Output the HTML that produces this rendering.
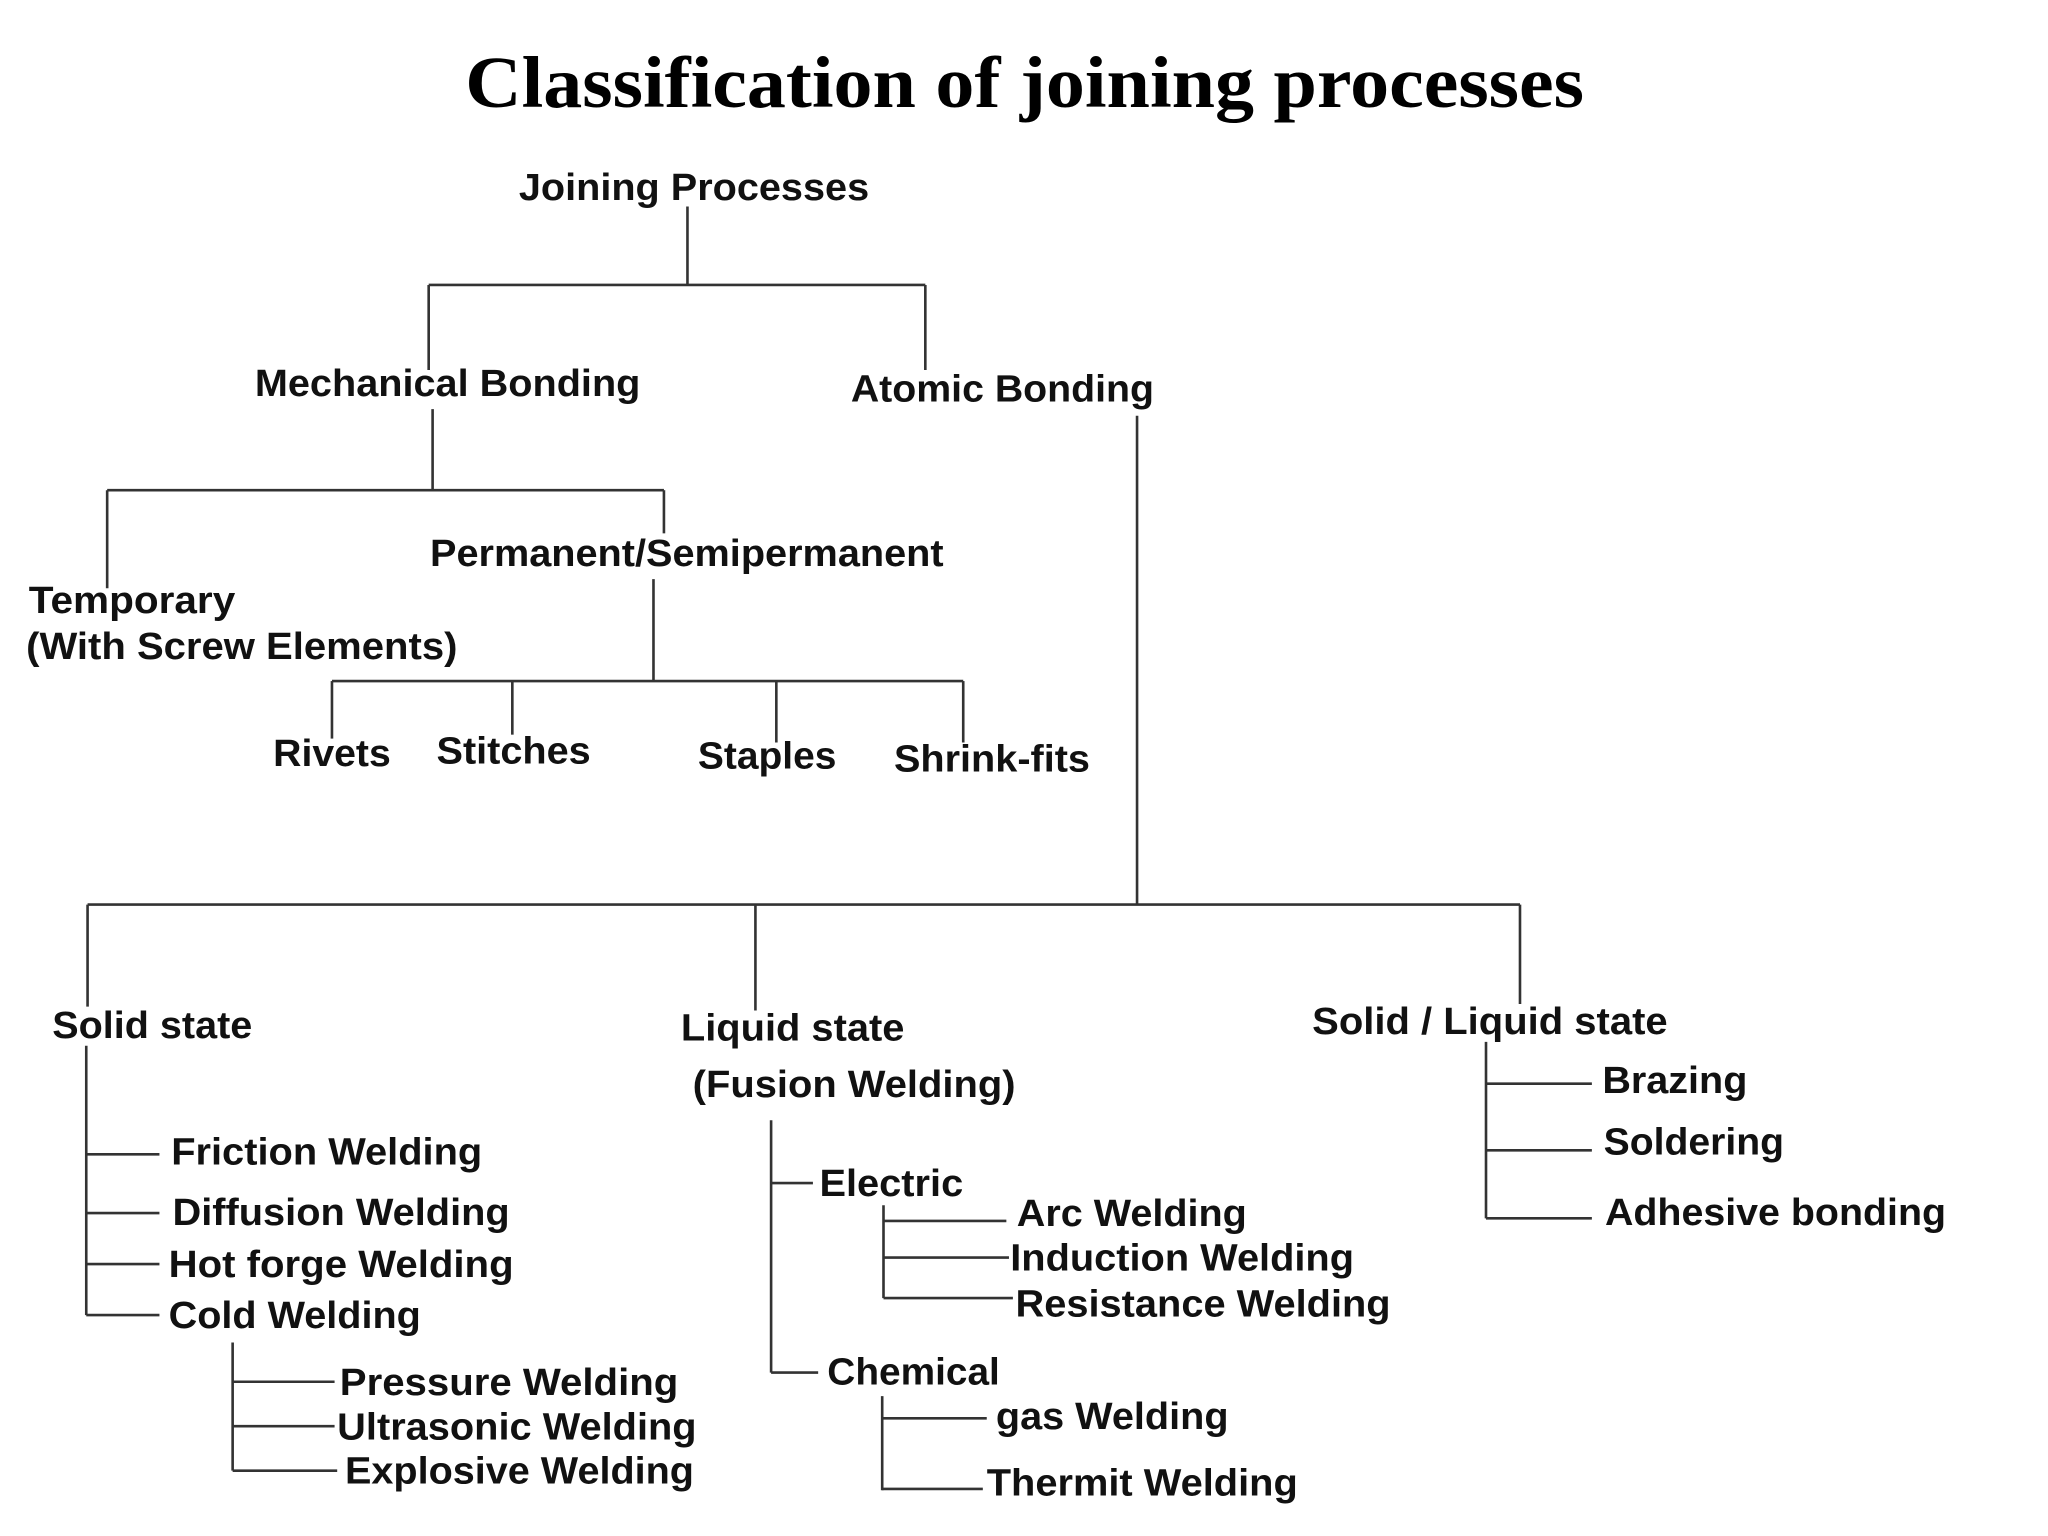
<!DOCTYPE html>
<html><head><meta charset="utf-8"><style>
html,body{margin:0;padding:0;background:#fff;}
svg{display:block;}
text{font-family:"Liberation Sans",Arial,sans-serif;font-weight:bold;font-size:29px;fill:#111;}
.t{font-family:"Liberation Serif",serif;font-size:56px;fill:#000;}
line{stroke:#333;stroke-width:2;}
</style></head><body>
<svg width="2048" height="1536" viewBox="0 0 1567 1175" preserveAspectRatio="none" xmlns="http://www.w3.org/2000/svg">
<text class="t" x="356" y="82" textLength="856" lengthAdjust="spacingAndGlyphs">Classification of joining processes</text>
<g>
<line x1="526" y1="158" x2="526" y2="218"/><line x1="328" y1="218" x2="708" y2="218"/>
<line x1="328" y1="218" x2="328" y2="283"/><line x1="708" y1="218" x2="708" y2="283"/>
<line x1="331" y1="313" x2="331" y2="375"/><line x1="82" y1="375" x2="508" y2="375"/>
<line x1="82" y1="375" x2="82" y2="450"/><line x1="508" y1="375" x2="508" y2="408"/>
<line x1="500" y1="443" x2="500" y2="521"/><line x1="254" y1="521" x2="737" y2="521"/>
<line x1="254" y1="521" x2="254" y2="565"/><line x1="392" y1="521" x2="392" y2="562"/>
<line x1="594" y1="521" x2="594" y2="568"/><line x1="737" y1="521" x2="737" y2="568"/>
<line x1="870" y1="318" x2="870" y2="692"/><line x1="67" y1="692" x2="1163" y2="692"/>
<line x1="67" y1="692" x2="67" y2="770"/><line x1="578" y1="692" x2="578" y2="773"/>
<line x1="1163" y1="692" x2="1163" y2="768"/>
<line x1="66" y1="800" x2="66" y2="1006"/>
<line x1="66" y1="883" x2="122" y2="883"/><line x1="66" y1="928" x2="122" y2="928"/>
<line x1="66" y1="967" x2="122" y2="967"/><line x1="66" y1="1006" x2="122" y2="1006"/>
<line x1="178" y1="1027" x2="178" y2="1125"/>
<line x1="178" y1="1057" x2="256" y2="1057"/><line x1="178" y1="1091" x2="256" y2="1091"/><line x1="178" y1="1125" x2="258" y2="1125"/>
<line x1="590" y1="857" x2="590" y2="1050"/>
<line x1="590" y1="905" x2="622" y2="905"/><line x1="590" y1="1050" x2="626" y2="1050"/>
<line x1="676" y1="922" x2="676" y2="993"/>
<line x1="676" y1="934" x2="770" y2="934"/><line x1="676" y1="962" x2="772" y2="962"/><line x1="676" y1="993" x2="775" y2="993"/>
<line x1="675" y1="1068" x2="675" y2="1140"/>
<line x1="675" y1="1085" x2="755" y2="1085"/><line x1="675" y1="1139" x2="752" y2="1139"/>
<line x1="1137" y1="797" x2="1137" y2="932"/>
<line x1="1137" y1="829" x2="1218" y2="829"/><line x1="1137" y1="880" x2="1218" y2="880"/><line x1="1137" y1="932" x2="1218" y2="932"/>
</g>
<text x="397" y="153" textLength="268" lengthAdjust="spacingAndGlyphs">Joining Processes</text>
<text x="195" y="303" textLength="295" lengthAdjust="spacingAndGlyphs">Mechanical Bonding</text>
<text x="651" y="307" textLength="232" lengthAdjust="spacingAndGlyphs">Atomic Bonding</text>
<text x="329" y="433" textLength="393" lengthAdjust="spacingAndGlyphs">Permanent/Semipermanent</text>
<text x="22" y="469" textLength="158" lengthAdjust="spacingAndGlyphs">Temporary</text>
<text x="20" y="504" textLength="330" lengthAdjust="spacingAndGlyphs">(With Screw Elements)</text>
<text x="209" y="586" textLength="90" lengthAdjust="spacingAndGlyphs">Rivets</text>
<text x="334" y="584" textLength="118" lengthAdjust="spacingAndGlyphs">Stitches</text>
<text x="534" y="588" textLength="106" lengthAdjust="spacingAndGlyphs">Staples</text>
<text x="684" y="590" textLength="150" lengthAdjust="spacingAndGlyphs">Shrink-fits</text>
<text x="40" y="794" textLength="153" lengthAdjust="spacingAndGlyphs">Solid state</text>
<text x="521" y="796" textLength="171" lengthAdjust="spacingAndGlyphs">Liquid state</text>
<text x="530" y="839" textLength="247" lengthAdjust="spacingAndGlyphs">(Fusion Welding)</text>
<text x="1004" y="791" textLength="272" lengthAdjust="spacingAndGlyphs">Solid / Liquid state</text>
<text x="1226" y="836" textLength="111" lengthAdjust="spacingAndGlyphs">Brazing</text>
<text x="1227" y="883" textLength="138" lengthAdjust="spacingAndGlyphs">Soldering</text>
<text x="1228" y="937" textLength="261" lengthAdjust="spacingAndGlyphs">Adhesive bonding</text>
<text x="131" y="891" textLength="238" lengthAdjust="spacingAndGlyphs">Friction Welding</text>
<text x="132" y="937" textLength="258" lengthAdjust="spacingAndGlyphs">Diffusion Welding</text>
<text x="129" y="977" textLength="264" lengthAdjust="spacingAndGlyphs">Hot forge Welding</text>
<text x="129" y="1016" textLength="193" lengthAdjust="spacingAndGlyphs">Cold Welding</text>
<text x="260" y="1067" textLength="259" lengthAdjust="spacingAndGlyphs">Pressure Welding</text>
<text x="258" y="1101" textLength="275" lengthAdjust="spacingAndGlyphs">Ultrasonic Welding</text>
<text x="264" y="1135" textLength="267" lengthAdjust="spacingAndGlyphs">Explosive Welding</text>
<text x="627" y="915" textLength="110" lengthAdjust="spacingAndGlyphs">Electric</text>
<text x="778" y="938" textLength="176" lengthAdjust="spacingAndGlyphs">Arc Welding</text>
<text x="773" y="972" textLength="263" lengthAdjust="spacingAndGlyphs">Induction Welding</text>
<text x="777" y="1007" textLength="287" lengthAdjust="spacingAndGlyphs">Resistance Welding</text>
<text x="633" y="1059" textLength="132" lengthAdjust="spacingAndGlyphs">Chemical</text>
<text x="762" y="1093" textLength="178" lengthAdjust="spacingAndGlyphs">gas Welding</text>
<text x="755" y="1144" textLength="238" lengthAdjust="spacingAndGlyphs">Thermit Welding</text>
</svg>
</body></html>
